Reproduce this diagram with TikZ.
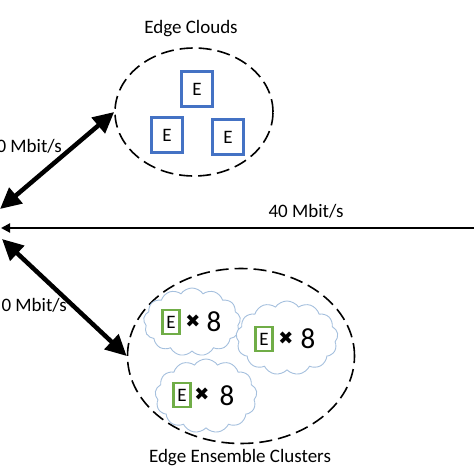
\documentclass[tikz,border=0pt]{standalone}
\usepackage{fontspec}
\setmainfont{Carlito}
\newfontfamily\symfont{DejaVu Sans}
\usetikzlibrary{shapes.geometric,shapes.symbols,arrows.meta}
\definecolor{eblue}{RGB}{68,114,196}
\definecolor{egreen}{RGB}{112,173,71}
\definecolor{cloudblue}{RGB}{165,192,222}
\tikzset{
  lbl/.style={font=\fontsize{19}{22}\selectfont, inner sep=0},
  ebox/.style={draw=eblue, line width=2.5pt, minimum width=31pt, minimum height=35pt, inner sep=0, font=\fontsize{19}{22}\selectfont},
  gbox/.style={draw=egreen, line width=2.5pt, minimum width=17pt, minimum height=24pt, inner sep=0, font=\fontsize{19}{22}\selectfont},
  region/.style={ellipse, draw, dash pattern=on 13pt off 6pt, line width=1.6pt, inner sep=0},
  puff/.style={cloud, cloud puffs=13, cloud puff arc=110, aspect=1.45, draw=cloudblue, fill=white, line width=0.9pt, inner sep=0},
  times/.style={font=\symfont\fontsize{18}{20}\selectfont, inner sep=0},
  eight/.style={font=\fontsize{29}{32}\selectfont, inner sep=0},
  bigarrow/.style={line width=4.5pt, {Triangle[length=21pt,width=20pt]}-{Triangle[length=21pt,width=20pt]}},
  thinarrow/.style={line width=2pt, -{Triangle[length=9pt,width=9pt]}}
}
\begin{document}
\begin{tikzpicture}[x=1pt,y=-1pt]
\useasboundingbox (0,0) rectangle (474,474);
% regions
\node[region, minimum width=158pt, minimum height=128pt] (ec) at (194,112) {};
\node[region, minimum width=227pt, minimum height=175pt] (eec) at (241,356) {};
\node[lbl] (tec) at (191,29) {Edge Clouds};
\node[lbl] (teec) at (240,458) {Edge Ensemble Clusters};
% edge cloud boxes
\node[ebox] (e1) at (197,89) {E};
\node[ebox] (e2) at (167,135) {E};
\node[ebox] (e3) at (228,137) {E};
% clusters
\node[puff, minimum width=97pt, minimum height=68pt] (c1) at (192,322) {};
\node[puff, minimum width=102pt, minimum height=74pt] (c3) at (206,396) {};
\node[puff, minimum width=102pt, minimum height=74pt] (c2) at (287,338) {};
\node[gbox] (g1) at (171,322) {E};
\node[times] (x1) at (193,321) {✖};
\node[eight] (n1) at (214,322) {8};
\node[gbox] (g2) at (264,339) {E};
\node[times] (x2) at (286,338) {✖};
\node[eight] (n2) at (308,339) {8};
\node[gbox] (g3) at (182,395) {E};
\node[times] (x3) at (202,394) {✖};
\node[eight] (n3) at (227,396) {8};
% connectors
\coordinate (ul) at (0,209);
\coordinate (ll) at (2,239);
\coordinate (hl) at (1,228);
\coordinate (hr) at (476,228);
\draw[bigarrow] (ul) -- (ec.west);
\draw[bigarrow] (ll) -- (eec.west);
\draw[thinarrow] (hr) -- (hl);
% labels
\node[lbl, anchor=east] (lu) at (62,146) {0 Mbit/s};
\node[lbl, anchor=east] (ll2) at (67,305) {0 Mbit/s};
\node[lbl] (lh) at (306,211) {40 Mbit/s};
\end{tikzpicture}
\end{document}
